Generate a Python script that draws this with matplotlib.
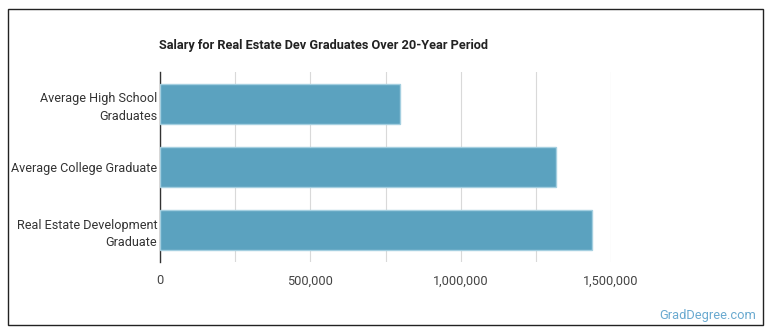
import matplotlib
matplotlib.use("Agg")
import matplotlib.pyplot as plt
from matplotlib.patches import Rectangle
from matplotlib.ticker import FuncFormatter, MultipleLocator

categories = ["Average High School\nGraduates", "Average College Graduate", "Real Estate Development\nGraduate"]
values = [799000, 1316000, 1436000]
xticks = [0, 500000, 1000000, 1500000]
title = "Salary for Real Estate Dev Graduates Over 20-Year Period"

plt.rcParams['font.family'] = ['Roboto', 'DejaVu Sans']

W, H = 770, 335
fig = plt.figure(figsize=(W/100, H/100), dpi=100)
fig.patch.set_facecolor('white')

# border
fig.add_artist(Rectangle((8/W, 1-325/H), (763-8)/W, (325-9)/H, transform=fig.transFigure,
                         fill=False, edgecolor='#222222', linewidth=1.0))

left, right, top, bottom = 160, 611, 72, 262
ax = fig.add_axes([left/W, 1-bottom/H, (right-left)/W, (bottom-top)/H])
y = list(range(len(categories)))
ax.barh(y, values, height=0.63, color='#5ba2bf', edgecolor='#a4cfe0', linewidth=1.0, zorder=3)
ax.set_ylim(2.5, -0.5)
ax.set_xlim(0, 1500000)
ax.set_yticks(y)
ax.set_yticklabels(categories, fontsize=9.1, color='#333333', linespacing=1.45)
ax.set_xticks(xticks)
ax.xaxis.set_major_formatter(FuncFormatter(lambda v, p: f"{int(v):,}"))
ax.xaxis.set_minor_locator(MultipleLocator(250000))
ax.tick_params(axis='x', labelsize=9.2, colors='#444444', length=0, pad=9)
ax.tick_params(axis='y', length=0, pad=2)
ax.tick_params(axis='x', which='minor', length=0)
ax.grid(axis='x', which='both', color='#d9d9d9', linewidth=0.8, zorder=0)
for s in ['top', 'right', 'bottom']:
    ax.spines[s].set_visible(False)
ax.spines['left'].set_color('#333333')
ax.spines['left'].set_linewidth(1.0)

fig.text(159/W, 1-45/H, title, fontsize=9.2, fontweight='bold', color='#222222', ha='left', va='center')
fig.text(756/W, 1-315/H, "GradDegree.com", fontsize=9.3, color='#6aaad0', ha='right', va='center')

fig.savefig('out.png', dpi=100, facecolor='white')
